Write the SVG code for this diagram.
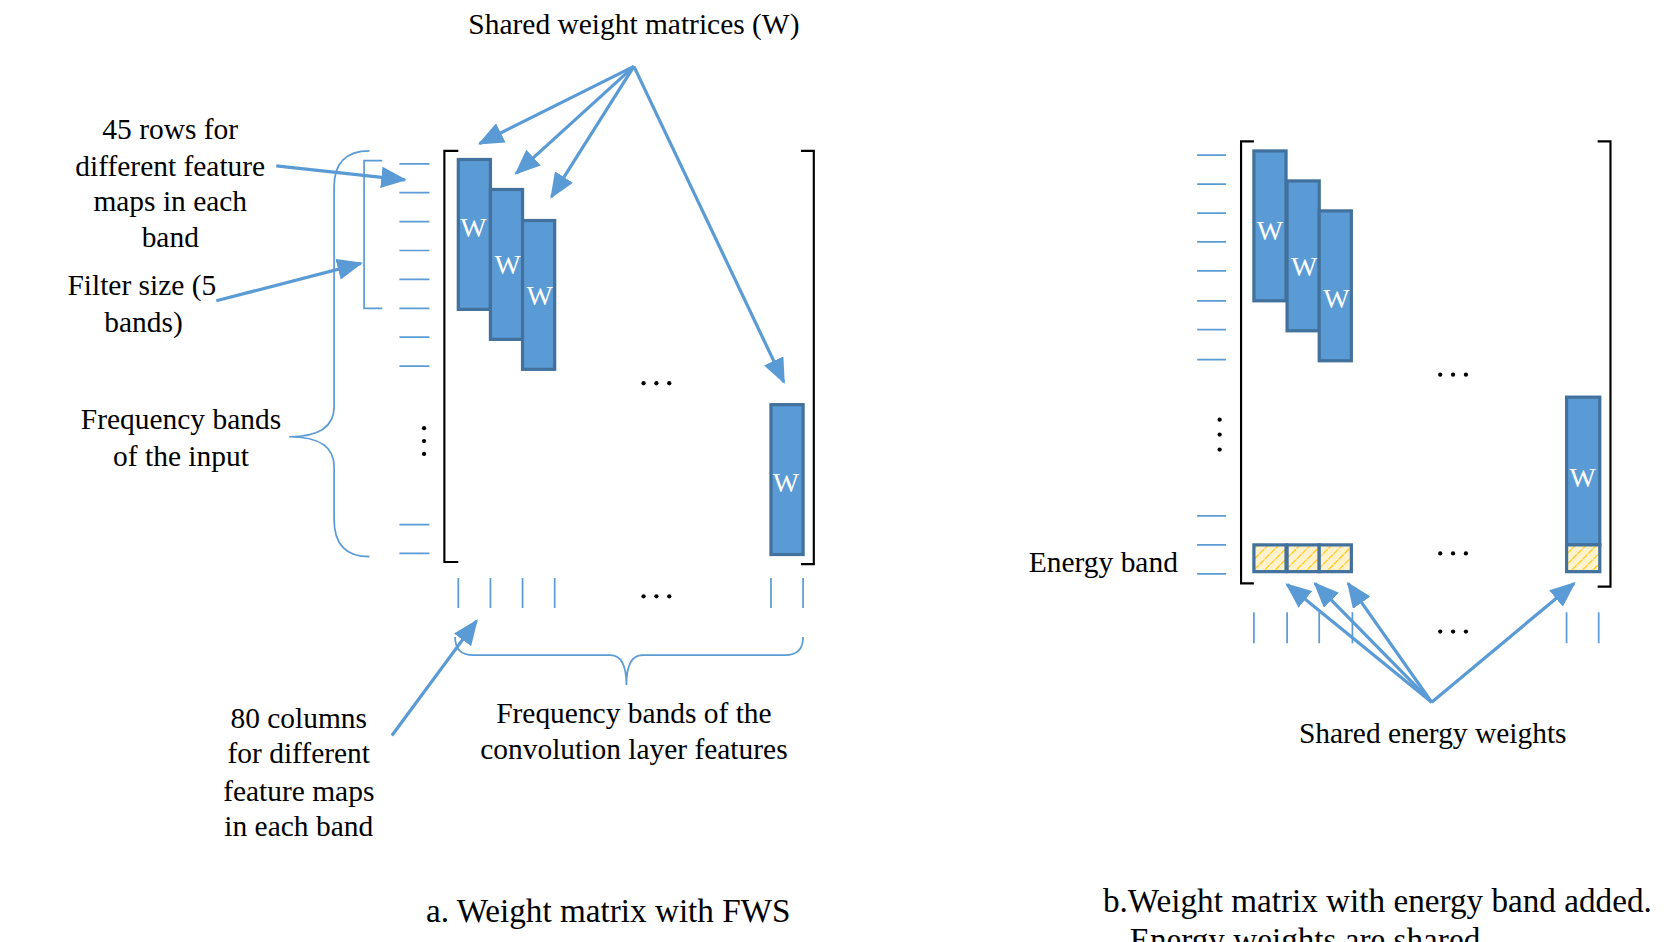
<svg xmlns="http://www.w3.org/2000/svg" width="1679" height="942" viewBox="0 0 1679 942">
<style>
text{font-family:"Liberation Serif","Times New Roman",serif;font-size:27.5px;fill:#000}
.c{text-anchor:middle}
.w{fill:#fff;font-size:26px;text-anchor:middle}
.cap{font-size:31px}
.box{fill:#5B9BD5;stroke:#41719C;stroke-width:3}
.tick{stroke:#5B9BD5;stroke-width:1.6;fill:none}
.br{stroke:#000;stroke-width:2;fill:none}
.arr{stroke:#5B9BD5;stroke-width:3;fill:none;marker-end:url(#ah)}
.dot{fill:#000}
.hat{fill:url(#hatch);stroke:#41719C;stroke-width:3}
</style>
<defs>
<marker id="ah" markerUnits="userSpaceOnUse" markerWidth="24" markerHeight="20" refX="22" refY="10" orient="auto"><path d="M0,0 L24,10 L0,20 z" fill="#5B9BD5"/></marker>
<pattern id="hatch" patternUnits="userSpaceOnUse" width="7" height="7" patternTransform="rotate(45)"><rect width="7" height="7" fill="#FFF2CC"/><line x1="0" y1="0" x2="0" y2="7" stroke="#FFC000" stroke-width="2" stroke-dasharray="3,1"/></pattern>
</defs>
<g transform="scale(1.0708 1.0705)">
<g id="panel-a">
<g id="labels-a">
<text class="c" x="592" y="32">Shared weight matrices (W)</text>
<text class="c" x="159" y="130">45 rows for</text>
<text class="c" x="159" y="164">different feature</text>
<text class="c" x="159" y="197">maps in each</text>
<text class="c" x="159" y="231">band</text>
<text x="63" y="276">Filter size (5</text>
<text class="c" x="134" y="310">bands)</text>
<text class="c" x="169" y="401">Frequency bands</text>
<text class="c" x="169" y="435">of the input</text>
<text class="c" x="279" y="680">80 columns</text>
<text class="c" x="279" y="713">for different</text>
<text class="c" x="279" y="748">feature maps</text>
<text class="c" x="279" y="781">in each band</text>
<text class="c" x="592" y="675">Frequency bands of the</text>
<text class="c" x="592" y="709">convolution layer features</text>
<text class="c cap" x="568" y="861">a. Weight matrix with FWS</text>
</g>
<g id="matrix-a">
<path class="br" d="M428,141 H415 V525 H428"/>
<path class="br" d="M748,141 H760 V527 H748"/>
<path class="tick" d="M373,153H401M373,180H401M373,207H401M373,234H401M373,261H401M373,288H401M373,315H401M373,342H401M373,490H401M373,517H401"/>
<path class="tick" d="M428,540V568M458,540V568M488,540V568M518,540V568M720,540V568M750,540V568"/>
<circle class="dot" cx="396" cy="400" r="2"/><circle class="dot" cx="396" cy="412" r="2"/><circle class="dot" cx="396" cy="424" r="2"/>
<circle class="dot" cx="601" cy="358" r="2"/><circle class="dot" cx="613" cy="358" r="2"/><circle class="dot" cx="625" cy="358" r="2"/>
<circle class="dot" cx="601" cy="557" r="2"/><circle class="dot" cx="613" cy="557" r="2"/><circle class="dot" cx="625" cy="557" r="2"/>
</g>
<g id="w-a1"><rect class="box" x="428" y="149" width="30" height="140"/><text class="w" x="442" y="221">W</text></g>
<g id="w-a2"><rect class="box" x="458" y="177" width="30" height="140"/><text class="w" x="474" y="256">W</text></g>
<g id="w-a3"><rect class="box" x="488" y="206" width="30" height="139"/><text class="w" x="504" y="285">W</text></g>
<g id="w-a4"><rect class="box" x="720" y="378" width="30" height="140"/><text class="w" x="734" y="460">W</text></g>
<g id="braces-a">
<path class="tick" d="M345,141 Q312,141 312,175 V380 Q312,408 270,408 Q312,408 312,436 V485 Q312,520 345,520"/>
<path class="tick" d="M357,150 H340 V288 H357"/>
<path class="tick" d="M425,595 Q425,612 442,612 H570 Q585,612 585,640 Q585,612 600,612 H733 Q750,612 750,595"/>
</g>
</g>
<g id="panel-b">
<g id="labels-b">
<text x="1100" y="534" text-anchor="end">Energy band</text>
<text class="c" x="1338" y="694">Shared energy weights</text>
<text class="cap" x="1030" y="852">b.Weight matrix with energy band added.</text>
<text class="cap" x="1055" y="888">Energy weights are shared.</text>
</g>
<g id="matrix-b">
<path class="br" d="M1171,132 H1159 V545 H1171"/>
<path class="br" d="M1492,132 H1504 V548 H1492"/>
<path class="tick" d="M1118,145H1145M1118,172H1145M1118,199H1145M1118,226H1145M1118,253H1145M1118,281H1145M1118,308H1145M1118,336H1145M1118,482H1145M1118,509H1145M1118,536H1145"/>
<path class="tick" d="M1171,572V601M1202,572V601M1232,572V601M1263,572V601M1463,572V601M1493,572V601"/>
<circle class="dot" cx="1139" cy="392" r="2"/><circle class="dot" cx="1139" cy="406" r="2"/><circle class="dot" cx="1139" cy="420" r="2"/>
<circle class="dot" cx="1345" cy="350" r="2"/><circle class="dot" cx="1357" cy="350" r="2"/><circle class="dot" cx="1369" cy="350" r="2"/>
<circle class="dot" cx="1345" cy="517" r="2"/><circle class="dot" cx="1357" cy="517" r="2"/><circle class="dot" cx="1369" cy="517" r="2"/>
<circle class="dot" cx="1345" cy="590" r="2"/><circle class="dot" cx="1357" cy="590" r="2"/><circle class="dot" cx="1369" cy="590" r="2"/>
</g>
<g id="w-b1"><rect class="box" x="1171" y="141" width="30" height="140"/><text class="w" x="1186" y="224">W</text></g>
<g id="w-b2"><rect class="box" x="1202" y="169" width="30" height="140"/><text class="w" x="1218" y="258">W</text></g>
<g id="w-b3"><rect class="box" x="1232" y="197" width="30" height="140"/><text class="w" x="1248" y="288">W</text></g>
<g id="w-b4"><rect class="box" x="1463" y="371" width="31" height="138"/><text class="w" x="1478" y="455">W</text></g>
<g id="energy-b">
<rect class="hat" x="1171" y="509" width="30" height="25"/>
<rect class="hat" x="1202" y="509" width="30" height="25"/>
<rect class="hat" x="1232" y="509" width="30" height="25"/>
<rect class="hat" x="1463" y="509" width="31" height="25"/>
</g>
</g>
<g id="connectors">
<line class="arr" x1="592" y1="62" x2="448" y2="134"/>
<line class="arr" x1="592" y1="62" x2="482" y2="162"/>
<line class="arr" x1="592" y1="62" x2="515" y2="184"/>
<line class="arr" x1="592" y1="62" x2="732" y2="357"/>
<line class="arr" x1="258" y1="155" x2="378" y2="168"/>
<line class="arr" x1="202" y1="281" x2="337" y2="246"/>
<line class="arr" x1="366" y1="687" x2="445" y2="580"/>
<line class="arr" x1="1337" y1="656" x2="1202" y2="546"/>
<line class="arr" x1="1337" y1="656" x2="1228" y2="545"/>
<line class="arr" x1="1337" y1="656" x2="1259" y2="545"/>
<line class="arr" x1="1337" y1="656" x2="1470" y2="545"/>
</g>
</g>
</svg>
